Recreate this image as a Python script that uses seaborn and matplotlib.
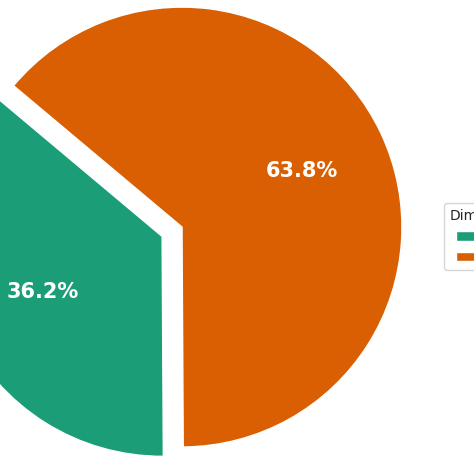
import matplotlib
matplotlib.use("Agg")
import matplotlib.pyplot as plt
import seaborn as sns

sns.set_theme(style="white")
plt.rcParams['font.family'] = ['DejaVu Sans']

categories = ["No", "Yes"]
values = [36.2, 63.8]
explode = [0.1, 0.0]
legend_title = "Dimension"

colors = sns.color_palette("Dark2", 2)

fig = plt.figure(figsize=(4.74, 4.74), dpi=100)
ax = fig.add_axes([-0.196, -0.059, 1.160, 1.160])
wedges, texts, autotexts = ax.pie(
    values, explode=explode, colors=colors, startangle=140,
    autopct="%1.1f%%", pctdistance=0.6,
    textprops=dict(color="white", fontsize=15, fontweight="bold"),
)
ax.set_aspect("equal")

fig.legend(wedges, categories, title=legend_title, loc="upper left",
           bbox_to_anchor=(444 / 474, 1 - 203 / 474),
           bbox_transform=fig.transFigure, borderaxespad=0, fontsize=10,
           title_fontsize=10, frameon=True)

fig.savefig("out.png", dpi=100)
